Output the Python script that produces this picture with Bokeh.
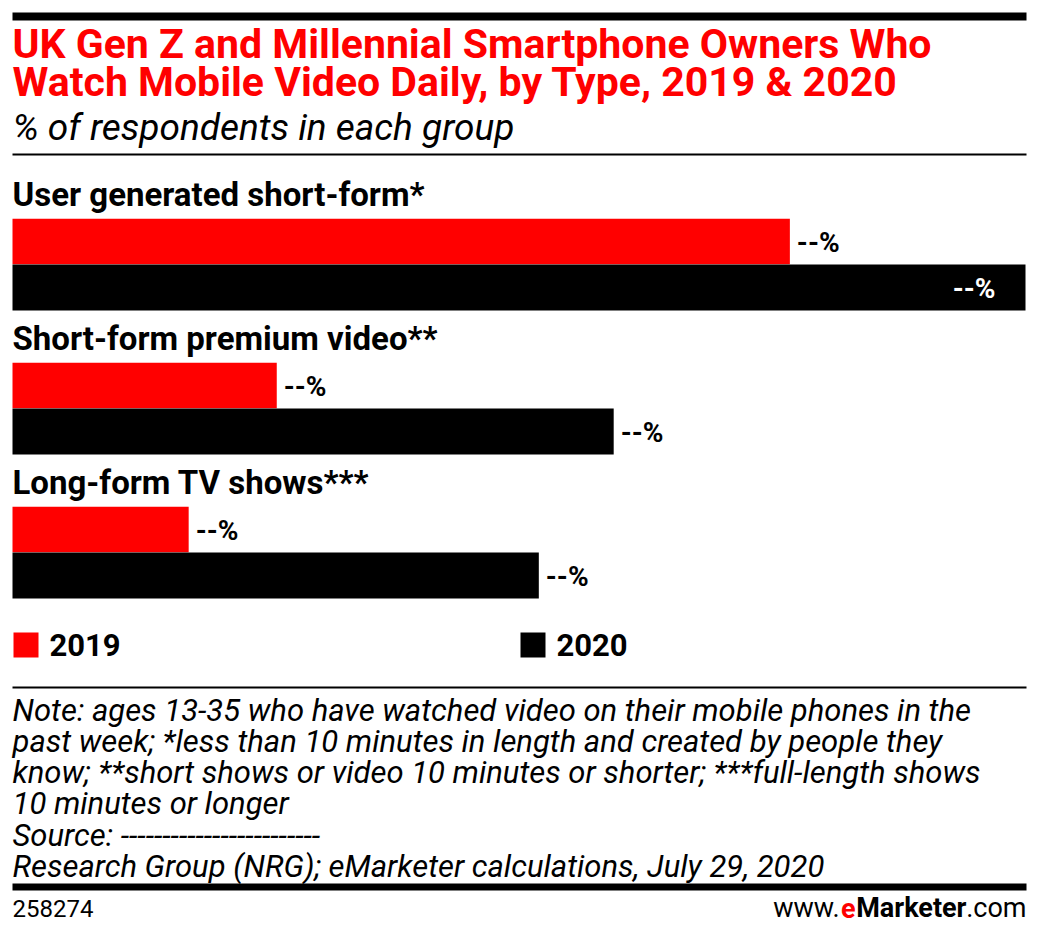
from bokeh.plotting import figure
from bokeh.models import Range1d, ColumnDataSource
from bokeh.embed import file_html
from bokeh.resources import INLINE
from bokeh.core.properties import value

# ---------------- data ----------------
categories = ["User generated short-form*", "Short-form premium video**", "Long-form TV shows***"]
series_names = ["2019", "2020"]
values_2019 = [35.3, 12.0, 8.0]
values_2020 = [46.0, 27.3, 23.9]
value_labels_2019 = ["--%", "--%", "--%"]
value_labels_2020 = ["--%", "--%", "--%"]
series_colors = ["#ff0000", "#000000"]

title_lines = ["UK Gen Z and Millennial Smartphone Owners Who",
               "Watch Mobile Video Daily, by Type, 2019 & 2020"]
subtitle = "% of respondents in each group"
note_lines = [
    "Note: ages 13-35 who have watched video on their mobile phones in the",
    "past week; *less than 10 minutes in length and created by people they",
    "know; **short shows or video 10 minutes or shorter; ***full-length shows",
    "10 minutes or longer",
    "Source: ------------------------",
    "Research Group (NRG); eMarketer calculations, July 29, 2020",
]
chart_id = "258274"

# ---------------- layout ----------------
W, H = 1030, 928
LEFT = 12
RIGHT = 1026
BAR_END_MAX = 1025
FONT = "Roboto"
BASE_FIX = 0.36  # baseline correction (fraction of font size)

vmax = max(values_2019 + values_2020)
scale = (BAR_END_MAX - LEFT) / vmax
x_start = -LEFT / scale
x_end = x_start + W / scale


def X(px):
    return x_start + px / scale


def Y(py):
    return py


p = figure(width=W, height=H, x_range=Range1d(x_start, x_end), y_range=Range1d(H, 0),
           output_backend="svg", toolbar_location=None, min_border=0,
           x_axis_location=None, y_axis_location=None)
p.grid.visible = False
p.outline_line_color = None
p.background_fill_color = "white"
p.border_fill_color = "white"


def rule(top, bottom):
    p.quad(left=[X(LEFT)], right=[X(RIGHT)], top=[Y(top)], bottom=[Y(bottom)],
           fill_color="black", line_color=None)


def txt(x, y, s, size, color="black", style="normal", align="left", font=FONT):
    p.text(x=[x], y=[y - BASE_FIX * size], text=[s], text_font=value(font),
           text_font_size=f"{size}px", text_font_style=style, text_color=color,
           text_align=align, text_baseline="alphabetic")


# rules
rule(12, 20)
rule(153, 155)
rule(686, 688)
rule(883, 890)

# title & subtitle
txt(X(LEFT), Y(58), title_lines[0], 41, color="#ff0000", style="bold")
txt(X(LEFT), Y(96), title_lines[1], 41, color="#ff0000", style="bold")
txt(X(LEFT), Y(140), subtitle, 37, style="italic")

# bars
GROUP_TOP = 218
GROUP_STEP = 144
BAR_H = 46
CAT_SIZE = 33
n = len(categories)
red_y = [Y(GROUP_TOP + i * GROUP_STEP + BAR_H / 2) for i in range(n)]
blk_y = [Y(GROUP_TOP + i * GROUP_STEP + BAR_H + BAR_H / 2) for i in range(n)]
lab_y = [Y(GROUP_TOP - 12 + i * GROUP_STEP) - BASE_FIX * CAT_SIZE for i in range(n)]

p.hbar(y=red_y, left=0, right=values_2019, height=BAR_H - 0.5, fill_color=series_colors[0], line_color=None)
p.hbar(y=blk_y, left=0, right=values_2020, height=BAR_H, fill_color=series_colors[1], line_color=None)

p.text(x=[0] * n, y=lab_y, text=categories, text_font=value(FONT), text_font_size=f"{CAT_SIZE}px",
       text_font_style="bold", text_color="black", text_baseline="alphabetic")

# value labels
vx, vy, vt, vc, va, vo = [], [], [], [], [], []
for vals, labs, ys in ((values_2019, value_labels_2019, red_y), (values_2020, value_labels_2020, blk_y)):
    for v, l, y in zip(vals, labs, ys):
        inside = v >= 0.9 * vmax
        vx.append(v); vy.append(y); vt.append(l)
        vc.append("white" if inside else "black")
        va.append("right" if inside else "left")
        vo.append(-30 if inside else 7)
src = ColumnDataSource(dict(x=vx, y=vy, text=vt, color=vc, align=va, off=vo))
p.text(x="x", y="y", text="text", text_color="color", text_align="align", x_offset="off",
       y_offset=1, source=src, text_font=value(FONT), text_font_size="28px",
       text_font_style="bold", text_baseline="middle")

# legend
for i, (name, col) in enumerate(zip(series_names, series_colors)):
    lx = 13 + i * 507
    p.quad(left=[X(lx)], right=[X(lx + 25)], top=[Y(632)], bottom=[Y(657)],
           fill_color=col, line_color=None)
    txt(X(lx + 36), Y(656), name, 31, style="bold")

# notes
for i, line in enumerate(note_lines):
    txt(X(LEFT), Y(721 + i * 31.2), line, 31, style="italic")

# footer
txt(X(LEFT), Y(917), chart_id, 24)
txt(X(RIGHT), Y(917), ".com", 27, align="right")
txt(X(966), Y(917), "Marketer", 27, style="bold", align="right")
txt(X(855), Y(917), "e", 27, color="#ff0000", style="bold", align="right")
txt(X(839), Y(917), "www.", 27, align="right")

open("out.html", "w").write(file_html(p, INLINE))
